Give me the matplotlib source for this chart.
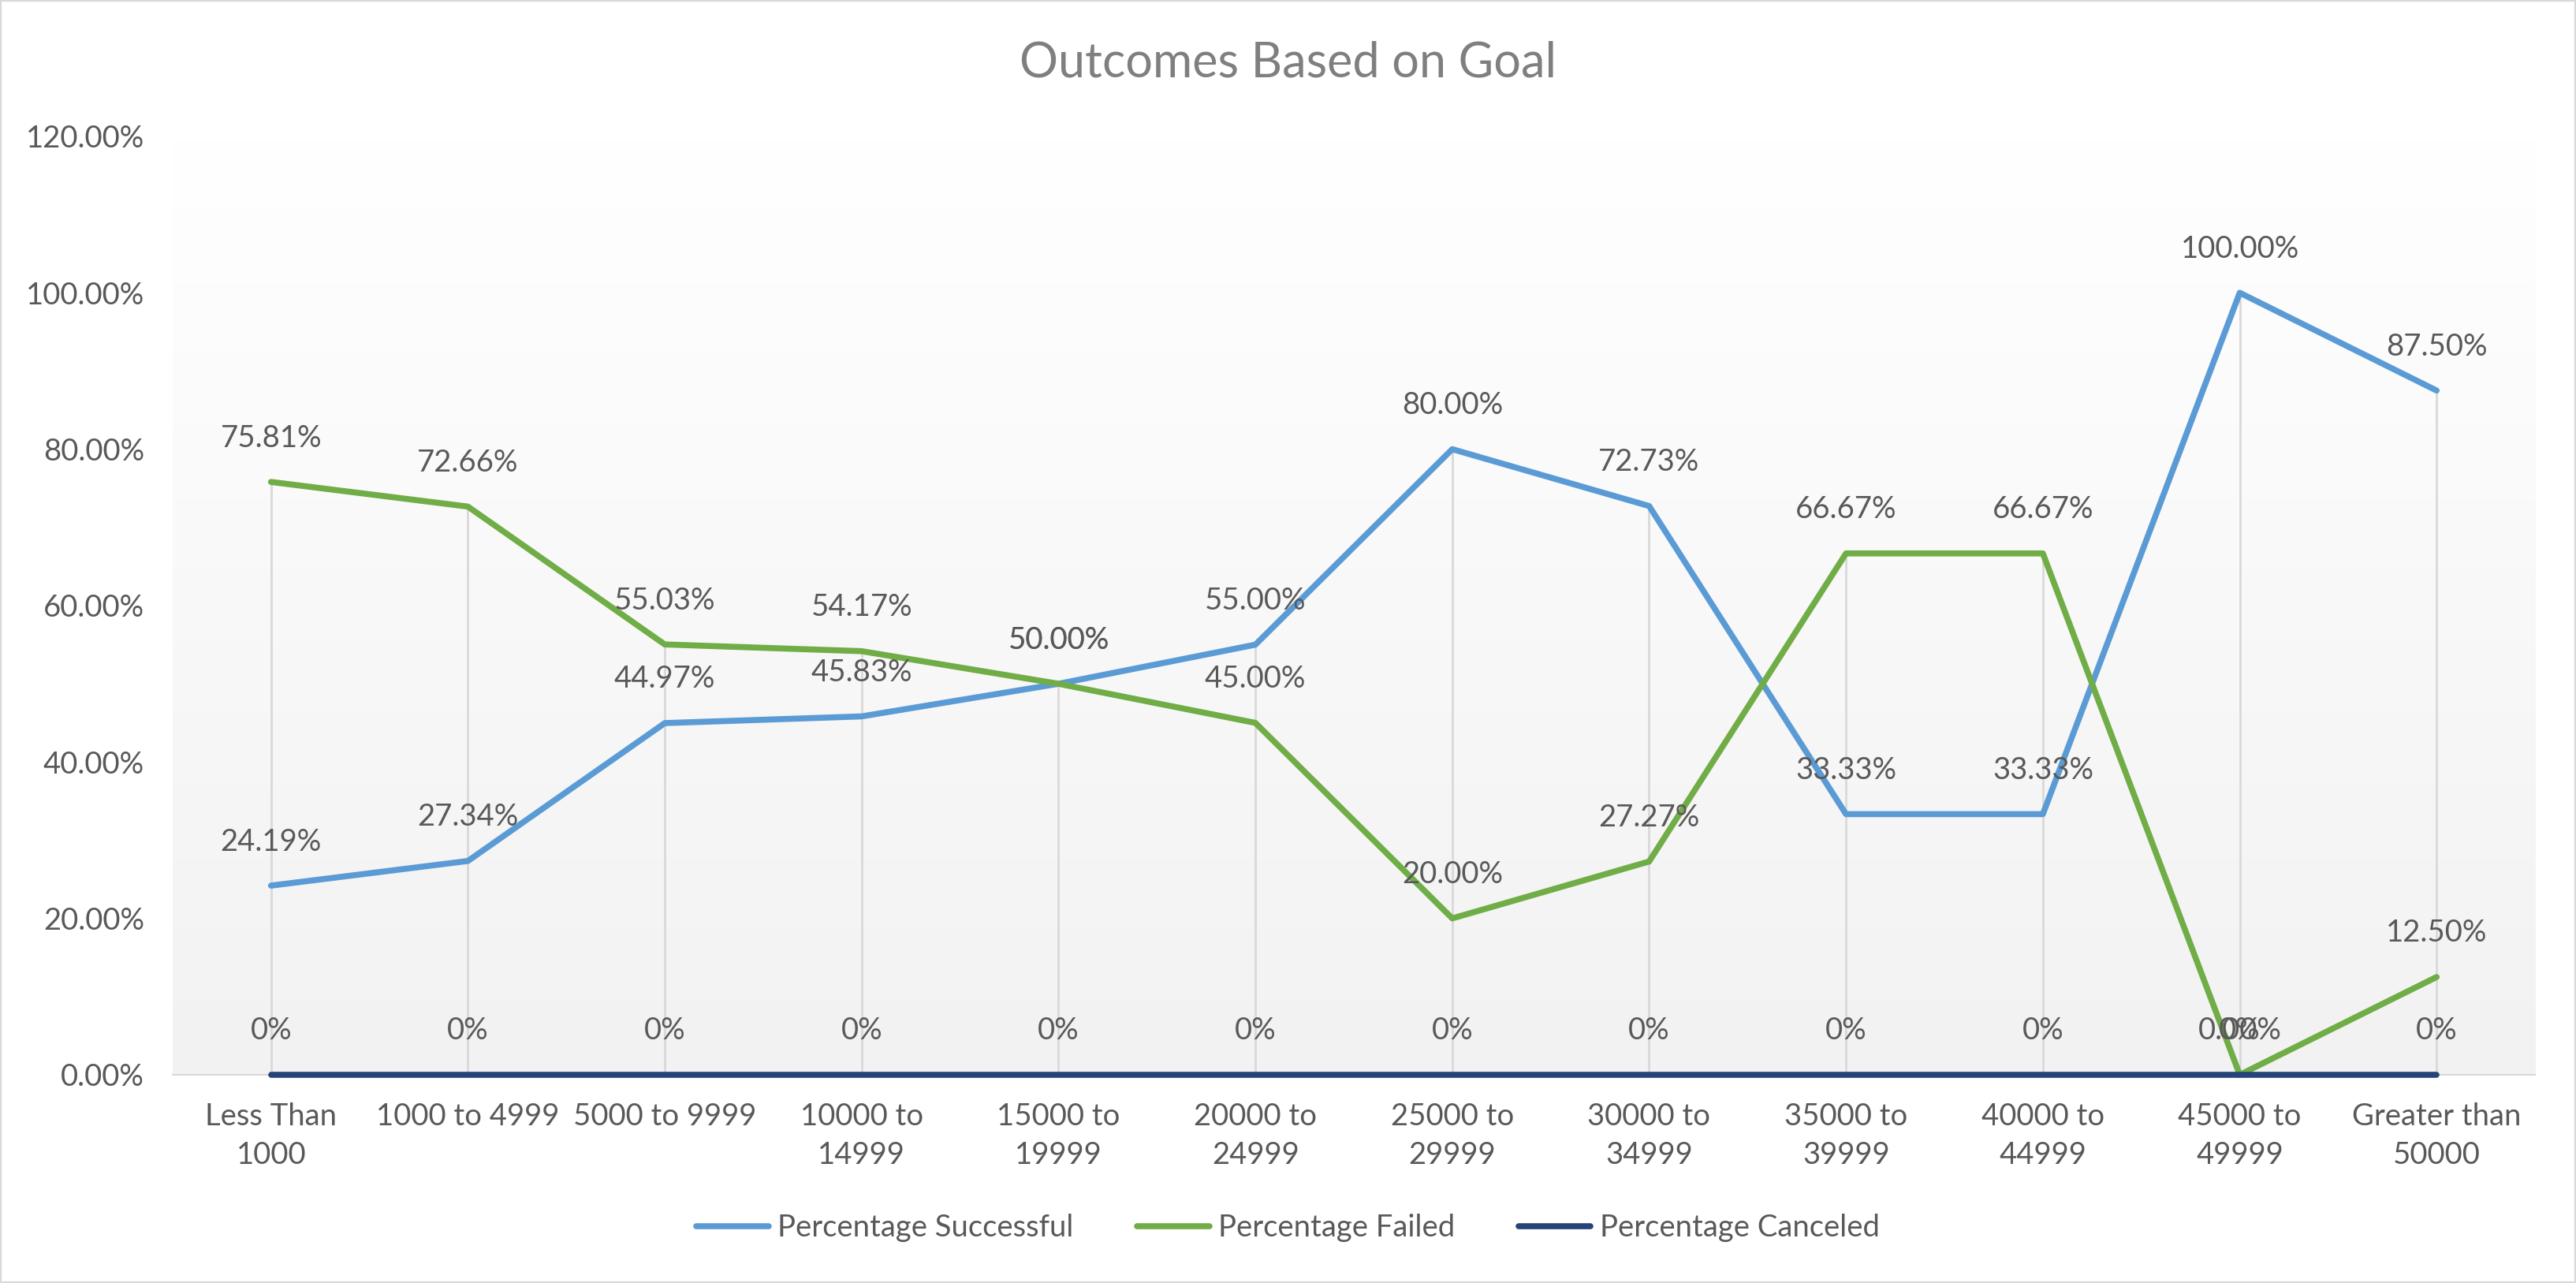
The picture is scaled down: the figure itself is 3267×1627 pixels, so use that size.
import matplotlib.pyplot as plt
import numpy as np
from matplotlib.colors import LinearSegmentedColormap
from matplotlib.patches import Rectangle
from matplotlib.ticker import PercentFormatter

plt.rcParams['font.family'] = ['Lato', 'DejaVu Sans']

# goal ranges (x categories), wrapped like the excel axis
goal_ranges = [
    "Less Than\n1000", "1000 to 4999", "5000 to 9999", "10000 to\n14999",
    "15000 to\n19999", "20000 to\n24999", "25000 to\n29999", "30000 to\n34999",
    "35000 to\n39999", "40000 to\n44999", "45000 to\n49999", "Greater than\n50000",
]

pct_successful = [0.2419, 0.2734, 0.4497, 0.4583, 0.5000, 0.5500,
                  0.8000, 0.7273, 0.3333, 0.3333, 1.0000, 0.8750]
pct_failed = [0.7581, 0.7266, 0.5503, 0.5417, 0.5000, 0.4500,
              0.2000, 0.2727, 0.6667, 0.6667, 0.0000, 0.1250]
pct_canceled = [0, 0, 0, 0, 0, 0, 0, 0, 0, 0, 0, 0]

series_names = ["Percentage Successful", "Percentage Failed", "Percentage Canceled"]
series_colors = ["#5B9BD5", "#70AD47", "#264478"]
label_formats = ["{:.2%}", "{:.2%}", "{:.0%}"]

text_grey = "#595959"
grid_grey = "#D9D9D9"
fs = 27.5

fig = plt.figure(figsize=(32.67, 16.27), dpi=100)
ax = fig.add_axes([0.067, 0.1623, 0.9171, 0.7314])

x = np.arange(len(goal_ranges))
all_series = [pct_successful, pct_failed, pct_canceled]

# plot area gradient, white on top to light grey at the bottom
grad_cmap = LinearSegmentedColormap.from_list("plot_bg", ["#FFFFFF", "#F2F2F2"])
grad = np.linspace(1, 0, 256).reshape(-1, 1)
ax.imshow(grad, extent=[-0.5, len(x) - 0.5, 0, 1.2], aspect='auto',
          cmap=grad_cmap, origin='lower', zorder=0)

# drop lines from highest point down to the axis
tops = np.max(np.array(all_series), axis=0)
ax.vlines(x, 0, tops, color=grid_grey, lw=2, zorder=1)

# no clipping so the zero line keeps its full width on the axis
for vals, name, col in zip(all_series, series_names, series_colors):
    ax.plot(x, vals, color=col, lw=5.5, label=name, clip_on=False,
            solid_capstyle='round', solid_joinstyle='round', zorder=3)

for vals, fmt in zip(all_series, label_formats):
    for xi, v in zip(x, vals):
        ax.annotate(fmt.format(v), (xi, v), xytext=(0, 40), textcoords='offset points',
                    ha='center', va='center', fontsize=fs, color=text_grey, zorder=4)

ax.set_xlim(-0.5, len(x) - 0.5)
ax.set_ylim(0, 1.2)
ax.set_yticks(np.arange(0, 1.21, 0.2))
ax.yaxis.set_major_formatter(PercentFormatter(xmax=1, decimals=2))
ax.set_xticks(x)
ax.set_xticklabels(goal_ranges, linespacing=1.45)

ax.tick_params(axis='both', length=0, labelsize=fs, labelcolor=text_grey)
ax.tick_params(axis='x', pad=25)
ax.tick_params(axis='y', pad=26)

for side in ['top', 'left', 'right']:
    ax.spines[side].set_visible(False)
ax.spines['bottom'].set_color(grid_grey)
ax.spines['bottom'].set_linewidth(1.5)
ax.spines['bottom'].set_zorder(2)

fig.suptitle("Outcomes Based on Goal", x=0.5, y=1 - 80 / 1627, va='center',
             fontsize=44, color="#7F7F7F")

fig.legend(loc='center', bbox_to_anchor=(0.5, 1 - 1557 / 1627), ncol=3,
           frameon=False, fontsize=fs, labelcolor=text_grey,
           handlelength=2.4, handletextpad=0.3, columnspacing=2.1)

# outer chart border
fig.patches.append(Rectangle((0, 0), 1, 1, transform=fig.transFigure, fill=False,
                             edgecolor=grid_grey, lw=3))

fig.savefig("out.png", dpi=100, facecolor='white')
